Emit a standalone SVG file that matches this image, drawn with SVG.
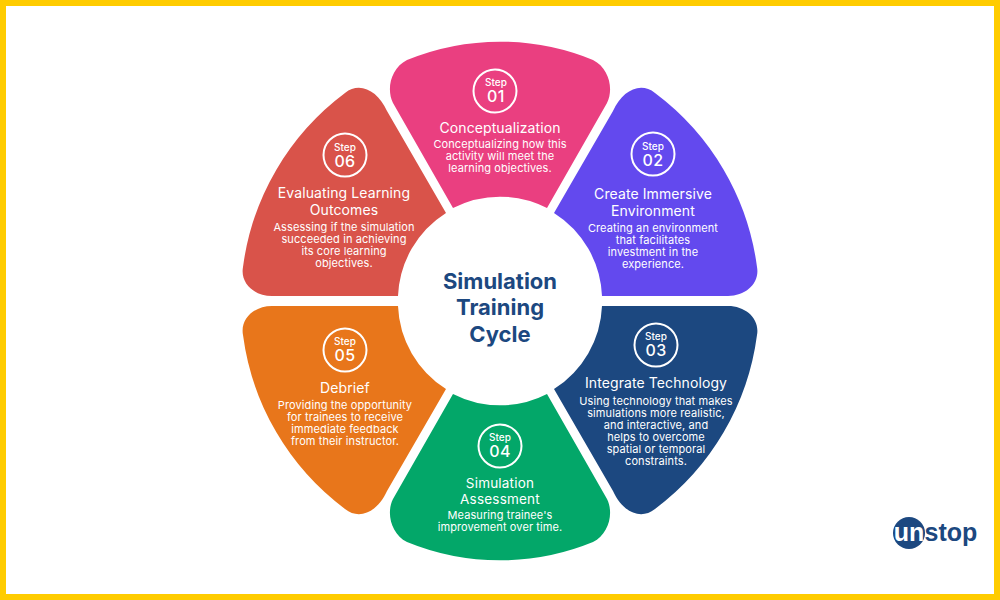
<svg xmlns="http://www.w3.org/2000/svg" width="1000" height="600" viewBox="0 0 1000 600">
<defs>
<style>
text{font-family:Inter,"Liberation Sans",sans-serif;text-anchor:middle;fill:#fff}
.ring{fill:none;stroke:#fff;stroke-width:2}
.st{font-size:10px;font-weight:500}
.no{font-size:16px;font-weight:500;letter-spacing:.4px}
.h{font-size:14px;font-weight:400;letter-spacing:.1px}
.s{font-size:13.5px;font-weight:400;letter-spacing:.2px}
.b{font-size:11px;font-weight:400;letter-spacing:.1px}
.title{font-size:22px;font-weight:700;fill:#1c4880}
.logo{font-family:"Liberation Sans",sans-serif;font-size:25px;font-weight:700}
</style>
<path id="p1" d="M453,208 L393,103 C386,89 391,68 407,60 A245,245 0 0 1 593,60 C609,68 614,89 607,103 L547,208 A103,103 0 0 0 453,208 Z"/>
<path id="p2" d="M554,213 L613,111 C622,91 640,81 655,93 A259,259 0 0 1 757,267 C760,283 746,296 728,296 L602,296 A103,103 0 0 0 554,213 Z"/>
</defs>
<rect x="3" y="3" width="994" height="594" fill="#fff" stroke="#ffcc00" stroke-width="6"/>
<g id="step1">
<use href="#p1" fill="#ea3f80"/>
<circle class="ring" cx="495" cy="91" r="21.5"/>
<text class="st" x="496" y="86">Step</text><text class="no" x="496" y="102">01</text>
<text class="h" x="500" y="133">Conceptualization</text>
<text class="b" x="500" y="148">Conceptualizing how this</text><text class="b" x="500" y="160">activity will meet the</text><text class="b" x="500" y="172">learning objectives.</text>
</g>
<g id="step2">
<use href="#p2" fill="#6349ee"/>
<circle class="ring" cx="653" cy="154" r="21.5"/>
<text class="st" x="653" y="150">Step</text><text class="no" x="653" y="166">02</text>
<text class="h" x="653" y="199">Create Immersive</text><text class="h" x="653" y="216">Environment</text>
<text class="b" x="653" y="232">Creating an environment</text><text class="b" x="653" y="244">that facilitates</text><text class="b" x="653" y="256">investment in the</text><text class="b" x="653" y="268">experience.</text>
</g>
<g id="step3">
<use href="#p2" transform="matrix(1 0 0 -1 0 602)" fill="#1c4880"/>
<circle class="ring" cx="656" cy="345" r="21.5"/>
<text class="st" x="656" y="340">Step</text><text class="no" x="656" y="356">03</text>
<text class="h" x="656" y="388">Integrate Technology</text>
<text class="b" x="656" y="405">Using technology that makes</text><text class="b" x="656" y="417">simulations more realistic,</text><text class="b" x="656" y="429">and interactive, and</text><text class="b" x="656" y="441">helps to overcome</text><text class="b" x="656" y="453">spatial or temporal</text><text class="b" x="656" y="465">constraints.</text>
</g>
<g id="step4">
<use href="#p1" transform="matrix(1 0 0 -1 0 602)" fill="#03a769"/>
<circle class="ring" cx="500" cy="446" r="21.5"/>
<text class="st" x="500" y="441">Step</text><text class="no" x="500" y="457">04</text>
<text class="s" x="500" y="488">Simulation</text><text class="s" x="500" y="503.5">Assessment</text>
<text class="b" x="500" y="519">Measuring trainee's</text><text class="b" x="500" y="531">improvement over time.</text>
</g>
<g id="step5">
<use href="#p2" transform="matrix(-1 0 0 -1 1000 602)" fill="#e8761b"/>
<circle class="ring" cx="345" cy="350" r="21.5"/>
<text class="st" x="345" y="345">Step</text><text class="no" x="345" y="361">05</text>
<text class="h" x="345" y="393">Debrief</text>
<text class="b" x="345" y="409">Providing the opportunity</text><text class="b" x="345" y="421">for trainees to receive</text><text class="b" x="345" y="433">immediate feedback</text><text class="b" x="345" y="445">from their instructor.</text>
</g>
<g id="step6">
<use href="#p2" transform="matrix(-1 0 0 1 1000 0)" fill="#d9534a"/>
<circle class="ring" cx="345" cy="155" r="21.5"/>
<text class="st" x="345" y="151">Step</text><text class="no" x="345" y="167">06</text>
<text class="h" x="344" y="198">Evaluating Learning</text><text class="h" x="344" y="215">Outcomes</text>
<text class="b" x="344" y="231">Assessing if the simulation</text><text class="b" x="344" y="243">succeeded in achieving</text><text class="b" x="344" y="255">its core learning</text><text class="b" x="344" y="267">objectives.</text>
</g>
<g id="center">
<text class="title" x="500" y="289">Simulation</text><text class="title" x="500" y="315">Training</text><text class="title" x="500" y="342">Cycle</text>
</g>
<g id="logo">
<circle cx="909" cy="533" r="16" fill="#1c4880"/>
<text class="logo" x="909" y="541">un</text>
<text class="logo" x="951" y="541" style="fill:#1c4880">stop</text>
</g>
</svg>
